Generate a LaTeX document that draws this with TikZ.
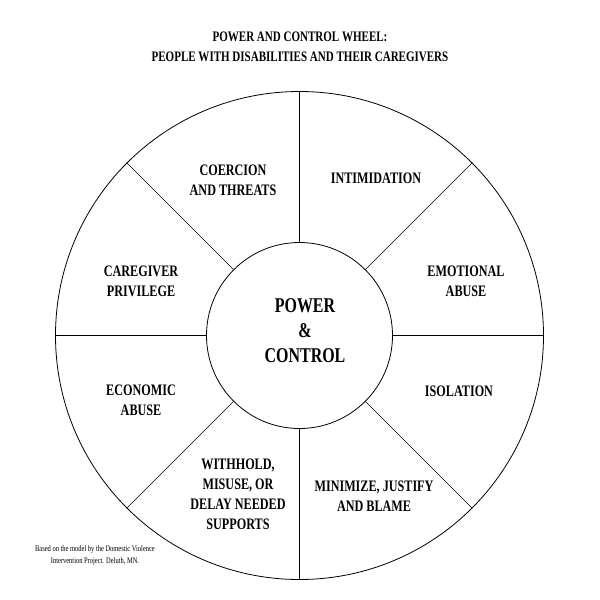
\documentclass[tikz,border=0pt]{standalone}
\usepackage{fontspec}
\setmainfont{Liberation Serif}[FakeStretch=0.76]
\begin{document}
\begin{tikzpicture}[x=1pt,y=-1pt,
  lab/.style={align=center,font=\bfseries\fontsize{16}{20}\selectfont,inner sep=0pt},
  ln/.style={line width=0.8pt}]
\useasboundingbox (0,0) rectangle (600,600);
\coordinate (c) at (299.5,335.5);
\node[ln,draw,circle,minimum size=488pt,inner sep=0pt] (outer) at (c) {};
\node[ln,draw,circle,minimum size=186pt,inner sep=0pt] (inner) at (c) {};
\foreach \a in {0,45,90,135,180,225,270,315}
  \draw[line width=0.6pt] (inner.\a) -- (outer.\a);
\node[align=center,font=\bfseries\fontsize{14.5}{20}\selectfont] (title) at (300,47) {POWER AND CONTROL WHEEL:\\PEOPLE WITH DISABILITIES AND THEIR CAREGIVERS};
\node[lab,font=\bfseries\fontsize{21}{25}\selectfont] (pc) at (305,331) {POWER\\\&\\CONTROL};
\node[lab] (co) at (233,180) {COERCION\\AND THREATS};
\node[lab] (in) at (376,178) {INTIMIDATION};
\node[lab] (em) at (466,281) {EMOTIONAL\\ABUSE};
\node[lab] (cg) at (141,281) {CAREGIVER\\PRIVILEGE};
\node[lab] (ec) at (141,400) {ECONOMIC\\ABUSE};
\node[lab] (is) at (459,391) {ISOLATION};
\node[lab] (wh) at (238,494) {WITHHOLD,\\MISUSE, OR\\DELAY NEEDED\\SUPPORTS};
\node[lab] (mi) at (374,496) {MINIMIZE, JUSTIFY\\AND BLAME};
\node[align=center,font=\fontsize{8.5}{12}\selectfont,inner sep=0pt] (ft) at (95,555) {Based on the model by the Domestic Violence\\Intervention Project. Deluth, MN.};
\end{tikzpicture}
\end{document}
